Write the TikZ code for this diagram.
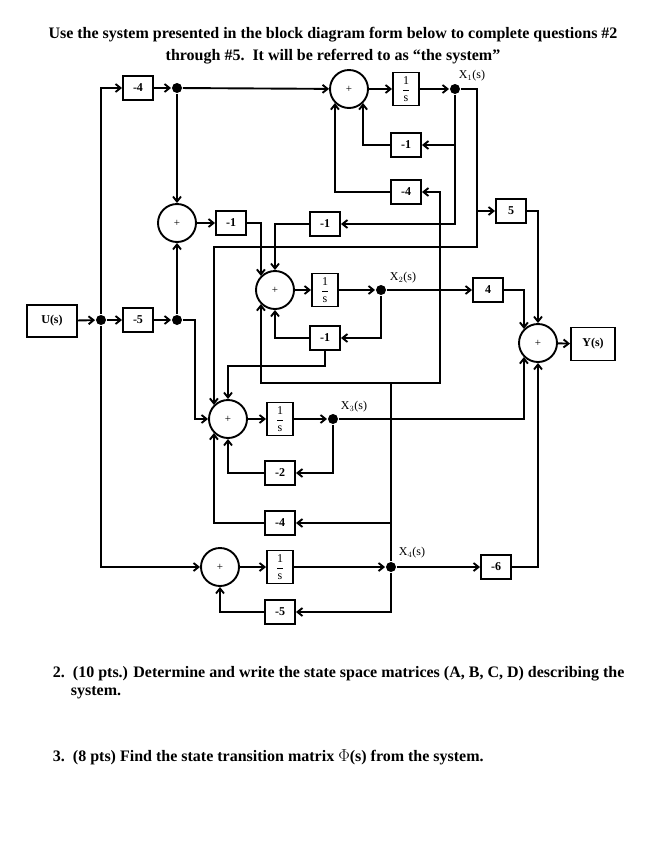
\documentclass[tikz,border=0pt]{standalone}
\usepackage{fontspec}
\setmainfont{Liberation Serif}
\usetikzlibrary{arrows.meta}
\begin{document}
\begin{tikzpicture}[x=1pt,y=-1pt,
  line width=1.9pt,
  >={Straight Barb[length=5pt,width=8pt]},
  sum/.style={draw,circle,minimum size=38pt,inner sep=0pt,font=\fontsize{11}{11}\selectfont},
  blk/.style={draw,minimum width=30pt,minimum height=24pt,inner sep=0pt,font=\bfseries\fontsize{12}{12}\selectfont},
  intg/.style={draw,minimum width=26pt,minimum height=33pt,inner sep=0pt,font=\fontsize{12}{12}\selectfont},
  dot/.style={circle,fill,inner sep=0pt,minimum size=10pt},
  lab/.style={font=\fontsize{12}{12}\selectfont},
  txt/.style={font=\bfseries\fontsize{16}{19}\selectfont,inner sep=0pt}]
\useasboundingbox (0,0) rectangle (656,860);
\node[txt] (t1) at (333,35) {Use the system presented in the block diagram form below to complete questions \#2};
\node[txt] (t2) at (333,57) {through \#5.\ \ It will be referred to as “the system”};
\node[txt,anchor=west] (q2) at (52,674) {2.\ \ (10 pts.) Determine and write the state space matrices (A, B, C, D) describing the};
\node[txt,anchor=west] (q2b) at (70,693) {system.};
\node[txt,anchor=west] (q3) at (52,757) {3.\ \ (8 pts) Find the state transition matrix $\Phi$(s) from the system.};

\node[blk,minimum width=50pt,minimum height=32pt] (U) at (52,321) {U(s)};
\node[blk,minimum width=44pt,minimum height=33pt] (Y) at (593,344) {Y(s)};
\node[dot] (d0) at (101,320) {};
\node[blk] (m5) at (138,320) {-5};
\node[dot] (d2) at (177,320) {};
\node[blk] (m4) at (138,88) {-4};
\node[dot] (d1) at (177,88) {};
\node[sum] (sa) at (177,223) {+};
\node[blk] (ma) at (231,223) {-1};
\node[sum] (s1) at (349,89) {+};
\node[intg] (i1) at (406,89) {$\displaystyle\frac{\mathrm{1}}{\mathrm{s}}$};
\node[dot] (x1) at (455,89) {};
\node[lab] (l1) at (472,76) {X$_1$(s)};
\node[blk] (m1a) at (406,145) {-1};
\node[blk] (m4a) at (406,192) {-4};
\node[blk] (m1b) at (325,224) {-1};
\node[blk] (m5b) at (511,211) {5};
\node[sum] (s2) at (275,290) {+};
\node[intg] (i2) at (325,290) {$\displaystyle\frac{\mathrm{1}}{\mathrm{s}}$};
\node[dot] (x2) at (381,290) {};
\node[lab] (l2) at (403,278) {X$_2$(s)};
\node[blk] (m4c) at (488,290) {4};
\node[blk] (m1c) at (325,338) {-1};
\node[sum] (sy) at (538,343) {+};
\node[sum] (s3) at (228,419) {+};
\node[intg] (i3) at (280,419) {$\displaystyle\frac{\mathrm{1}}{\mathrm{s}}$};
\node[dot] (x3) at (333,419) {};
\node[lab] (l3) at (354,407) {X$_3$(s)};
\node[blk] (m2) at (280,473) {-2};
\node[blk] (m4b) at (280,523) {-4};
\node[sum] (s4) at (220,567) {+};
\node[intg] (i4) at (280,567) {$\displaystyle\frac{\mathrm{1}}{\mathrm{s}}$};
\node[dot] (x4) at (391,567) {};
\node[lab] (l4) at (412,553) {X$_4$(s)};
\node[blk] (m6) at (496,567) {-6};
\node[blk] (m5c) at (280,612) {-5};
\coordinate (j) at (391,383);
\coordinate (k1) at (477,89);
\coordinate (k2) at (477,247);
\coordinate (k3) at (477,211);
\coordinate (k4) at (325,366);
\coordinate (k5) at (195,320);
\coordinate (k6) at (440,383);
\coordinate (k7) at (391,523);

\draw[->] (U) -- (d0);
\draw[->] (d0) -- (m5);
\draw[->] (m5) -- (d2);
\draw[->] (d0) |- (m4);
\draw[->] (m4) -- (d1);
\draw[->] (d1) -- (s1);
\draw[->] (d1) -- (sa);
\draw[->] (d2) -- (sa);
\draw[->] (d0) |- (s4);
\draw[->] (d2) -- (k5) |- (s3);
\draw[->] (sa) -- (ma);
\draw[->] (ma.east) -| (s2.135);
\draw[->] (s1) -- (i1);
\draw[->] (i1) -- (x1);
\draw[->] (x1) -- (k1) -- (k2) -| (s3.135);
\draw[->] (k3) -- (m5b);
\draw[->] (m5b.east) -| (sy.north);
\draw[->] (x1) |- (m1a.east);
\draw[->] (m1a.west) -| (s1.-45);
\draw[->] (x1) |- (m1b.east);
\draw[->] (m1b.west) -| (s2.north);
\draw[->] (j) -- (k6) |- (m4a.east);
\draw[->] (m4a.west) -| (s1.-135);
\draw[->] (j) -| (s2.-135);
\draw (x4) -- (j);
\draw[->] (s2) -- (i2);
\draw[->] (i2) -- (x2);
\draw[->] (x2) -- (m4c);
\draw[->] (m4c.east) -| (sy.135);
\draw[->] (x2) |- (m1c.east);
\draw[->] (m1c.west) -| (s2.south);
\draw[->] (m1c.south) -- (k4) -| (s3.north);
\draw[->] (sy) -- (Y);
\draw[->] (s3) -- (i3);
\draw[->] (i3) -- (x3);
\draw[->] (x3) -| (sy.-135);
\draw[->] (x3) |- (m2.east);
\draw[->] (m2.west) -| (s3.south);
\draw[->] (k7) -- (m4b);
\draw[->] (m4b.west) -| (s3.-135);
\draw[->] (s4) -- (i4);
\draw[->] (i4) -- (x4);
\draw[->] (x4) -- (m6);
\draw[->] (m6.east) -| (sy.south);
\draw[->] (x4) |- (m5c.east);
\draw[->] (m5c.west) -| (s4.south);
\end{tikzpicture}
\end{document}
